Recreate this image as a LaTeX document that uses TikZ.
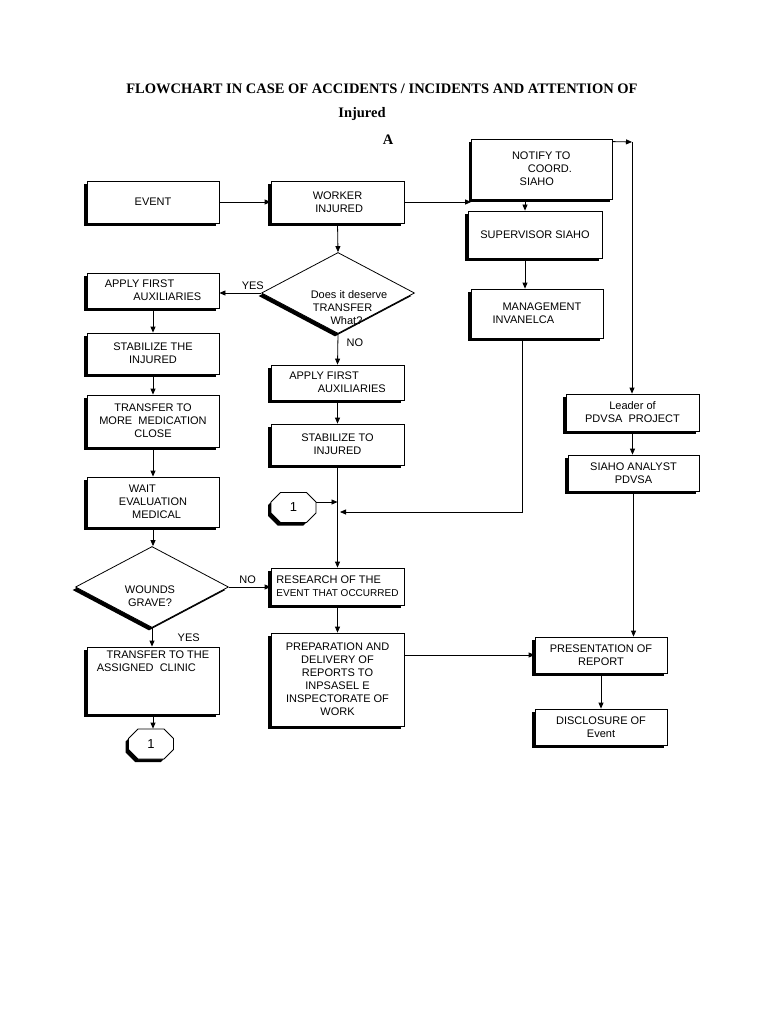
\documentclass[tikz,border=0pt]{standalone}
\usepackage{fontspec}
\setmainfont{Liberation Sans}
\newfontfamily\titlefont{Liberation Serif}
\usetikzlibrary{shapes.geometric,shapes.misc,shadows,positioning,arrows.meta}

\begin{document}
\begin{tikzpicture}[>={Triangle[length=6pt,width=5pt]}, x=1pt, y=-1pt, line width=0.8pt,
        every node/.style={font=\fontsize{11}{13}\selectfont},
        head/.style={font=\titlefont\bfseries\fontsize{14.5}{16}\selectfont},
        box/.style={draw, fill=white, minimum width=132pt, inner sep=2pt, align=center,
            drop shadow={shadow xshift=-3pt, shadow yshift=-3pt, fill=black, opacity=1}},
        ask/.style={box, diamond, aspect=1.8, inner sep=0pt, minimum width=153pt, minimum height=81pt},
        link/.style={box, chamfered rectangle, chamfered rectangle xsep=6pt, minimum width=45pt, minimum height=30pt,
            font=\fontsize{13}{15}\selectfont}]
        \useasboundingbox[fill=white] (0,0) rectangle (768,1024);
        % heading
        \node[head] (title) at (382,89) {FLOWCHART IN CASE OF ACCIDENTS / INCIDENTS AND ATTENTION OF};
        \node[head] (injured) at (362,114) {Injured};
        \node[head] (mark) at (388,140) {A};
        % top row and right branch
        \node[box, minimum height=42pt] (event) at (153,202) {EVENT};
        \node[box, minimum width=133pt, minimum height=42pt] (worker) at (337.5,202) {WORKER\\\hspace*{0.3em}INJURED};
        \node[box, minimum width=141pt, minimum height=60pt, align=left] (notify) at (542,169) {NOTIFY TO\\\hspace*{1.45em}COORD.\\\hspace*{0.7em}SIAHO};
        \node[box, minimum width=134pt, minimum height=47pt] (superv) at (535,234.5) {SUPERVISOR SIAHO};
        \node[box, minimum height=49pt, align=left] (manage) at (537,313.5) {\hspace*{0.9em}MANAGEMENT\\INVANELCA};
        \node[box, minimum width=133pt, minimum height=37pt] (leader) at (632.5,412.5) {Leader of\\PDVSA\ \ PROJECT};
        \node[box, minimum width=131pt, minimum height=36pt] (analyst) at (633.5,473) {SIAHO ANALYST\\PDVSA};
        \node[box, minimum height=36pt] (present) at (601,655) {PRESENTATION OF\\REPORT};
        \node[box, minimum height=36pt] (disclose) at (601,727) {DISCLOSURE OF\\Event};
        % middle column
        \node[ask] (deserve) at (338,293) {};
        \node[align=left] (deserveq) at (349,308) {Does it deserve\\\hspace*{0.2em}TRANSFER\\\hspace*{1.8em}What?};
        \node[box, minimum width=133pt, minimum height=35pt, align=left] (apply2) at (337.5,382.5) {APPLY FIRST\\\hspace*{2.6em}AUXILIARIES};
        \node[box, minimum width=133pt, minimum height=41pt] (stab2) at (337.5,444.5) {STABILIZE TO\\INJURED};
        \node[link] (link2) at (293.5,507.5) {1};
        \node[box, minimum width=133pt, minimum height=37pt, align=left] (research) at (337.5,586.5) {RESEARCH OF THE\\{\fontsize{10}{13}\selectfont EVENT THAT OCCURRED}};
        \node[box, minimum width=133pt, minimum height=93pt] (prepare) at (337.5,679.5) {PREPARATION AND\\DELIVERY OF\\REPORTS TO\\INPSASEL E\\INSPECTORATE OF\\WORK};
        % left column
        \node[box, minimum height=35pt, align=left] (apply1) at (153,290.5) {APPLY FIRST\\\hspace*{2.6em}AUXILIARIES};
        \node[box, minimum height=41pt] (stab1) at (153,353.5) {STABILIZE THE\\INJURED};
        \node[box, minimum height=52pt] (move1) at (153,421) {TRANSFER TO\\MORE\ \ MEDICATION\\CLOSE};
        \node[box, minimum height=50pt, align=left] (wait) at (153,502) {\hspace*{0.9em}WAIT\\EVALUATION\\\hspace*{1.2em}MEDICAL};
        \node[ask] (wounds) at (152,587) {};
        \node[align=center] (woundsq) at (150,596) {WOUNDS\\GRAVE?};
        \node[box, minimum height=67pt, align=left] (clinic) at (153,680.5) {\hspace*{0.9em}TRANSFER TO THE\\ASSIGNED\ \ CLINIC\\\mbox{}\\\mbox{}\\\mbox{}};
        \node[link] (link1) at (151,744) {1};
        \coordinate (turn) at (632,142);
        \coordinate (joinA) at (337.5,502);
        \coordinate (joinB) at (340,512);
        % connectors
        \draw[->] (event)--(worker);
        \draw[->] (worker.south)--(deserve.north);
        \draw[->] (worker.east)--(worker.east -| notify.west);
        \draw[->] ([yshift=-3pt]notify.north east)--(turn);
        \draw[->] (turn)--(turn |- leader.north);
        \draw[->] ([xshift=-17pt]notify.south)--([xshift=-17pt]notify.south |- superv.north);
        \draw[->] ([xshift=-10pt]superv.south)--([xshift=-10pt]superv.south |- manage.north);
        \draw[->] ([xshift=-15pt]manage.south) |- (joinB);
        \draw[->] (leader.south)--(leader.south |- analyst.north);
        \draw[->] (analyst.south)--(analyst.south |- present.north);
        \draw[->] (present)--(disclose);
        \draw[->] (prepare.east |- present.west)--(present.west);
        \draw[->] (deserve.west)--node[above, pos=0.2]{YES}(deserve.west -| apply1.east);
        \draw[->] (deserve.south)--node[right, pos=0.3, xshift=5pt]{NO}(apply2.north);
        \draw[->] (apply2)--(stab2);
        \draw[->] (stab2)--(research);
        \draw[->] (link2.east |- joinA)--(joinA);
        \draw[->] (research)--(prepare);
        \draw[->] (apply1)--(stab1);
        \draw[->] (stab1)--(move1);
        \draw[->] (move1)--(wait);
        \draw[->] (wait.south)--(wait.south |- wounds.north);
        \draw[->] (wounds.east)--node[above, pos=0.45]{NO}(wounds.east -| research.west);
        \draw[->] (wounds.south)--node[right, pos=0.5, xshift=22pt]{YES}(wounds.south |- clinic.north);
        \draw[->] (clinic.south)--(clinic.south |- link1.north);
    \end{tikzpicture}
\end{document}
